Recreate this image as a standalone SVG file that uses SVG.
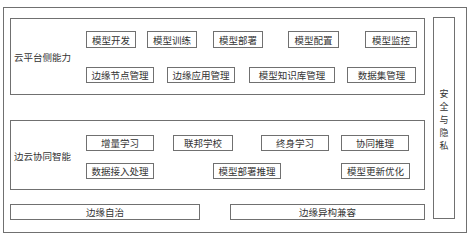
<svg xmlns="http://www.w3.org/2000/svg" width="474" height="241" viewBox="0 0 474 241">
<style>
rect{fill:#fff;stroke:#707070;stroke-width:1}
text{font-family:"Noto Sans CJK SC","Liberation Serif",sans-serif;font-size:9.5px;fill:#333;text-anchor:middle;dominant-baseline:central}
.l{text-anchor:start}
.v{font-size:9px}
</style>
<rect x="0" y="0" width="474" height="241" style="stroke:none"/>
<g id="outer"><rect x="3.5" y="7.5" width="463" height="225"/></g>
<g id="cloud">
<rect x="10.5" y="18.5" width="414" height="76"/>
<text class="l" x="14" y="57">云平台侧能力</text>
</g>
<g id="n1"><rect x="86.5" y="31.5" width="49" height="16"/><text x="111" y="39.5">模型开发</text></g>
<g id="n2"><rect x="147.5" y="31.5" width="49" height="16"/><text x="172" y="39.5">模型训练</text></g>
<g id="n3"><rect x="213.5" y="31.5" width="49" height="16"/><text x="238" y="39.5">模型部署</text></g>
<g id="n4"><rect x="288.5" y="31.5" width="50" height="16"/><text x="313.5" y="39.5">模型配置</text></g>
<g id="n5"><rect x="365.5" y="31.5" width="51" height="16"/><text x="391" y="39.5">模型监控</text></g>
<g id="n6"><rect x="86.5" y="67.5" width="67" height="15"/><text x="120" y="75">边缘节点管理</text></g>
<g id="n7"><rect x="167.5" y="67.5" width="67" height="15"/><text x="201" y="75">边缘应用管理</text></g>
<g id="n8"><rect x="249.5" y="67.5" width="85" height="15"/><text x="292" y="75">模型知识库管理</text></g>
<g id="n9"><rect x="347.5" y="67.5" width="68" height="15"/><text x="381.5" y="75">数据集管理</text></g>
<g id="edge">
<rect x="10.5" y="120.5" width="414" height="69"/>
<text class="l" x="14" y="156">边云协同智能</text>
</g>
<g id="m1"><rect x="86.5" y="135.5" width="67" height="15"/><text x="120" y="143">增量学习</text></g>
<g id="m2"><rect x="173.5" y="135.5" width="59" height="15"/><text x="203" y="143">联邦学校</text></g>
<g id="m3"><rect x="261.5" y="135.5" width="67" height="15"/><text x="295" y="143">终身学习</text></g>
<g id="m4"><rect x="341.5" y="135.5" width="67" height="15"/><text x="375" y="143">协同推理</text></g>
<g id="m5"><rect x="86.5" y="163.5" width="67" height="15"/><text x="120" y="171">数据接入处理</text></g>
<g id="m6"><rect x="213.5" y="163.5" width="67" height="15"/><text x="247" y="171">模型部署推理</text></g>
<g id="m7"><rect x="341.5" y="163.5" width="68" height="15"/><text x="375.5" y="171">模型更新优化</text></g>
<g id="b1"><rect x="10.5" y="204.5" width="189" height="15"/><text x="105" y="212">边缘自治</text></g>
<g id="b2"><rect x="230.5" y="204.5" width="194" height="15"/><text x="327.5" y="212">边缘异构兼容</text></g>
<g id="sec"><rect x="433.5" y="17.5" width="21" height="201"/>
<text class="v" x="444" y="93">安</text><text class="v" x="444" y="106">全</text><text class="v" x="444" y="119">与</text><text class="v" x="444" y="132">隐</text><text class="v" x="444" y="145">私</text>
</g>
<g id="connectors"/>
</svg>
